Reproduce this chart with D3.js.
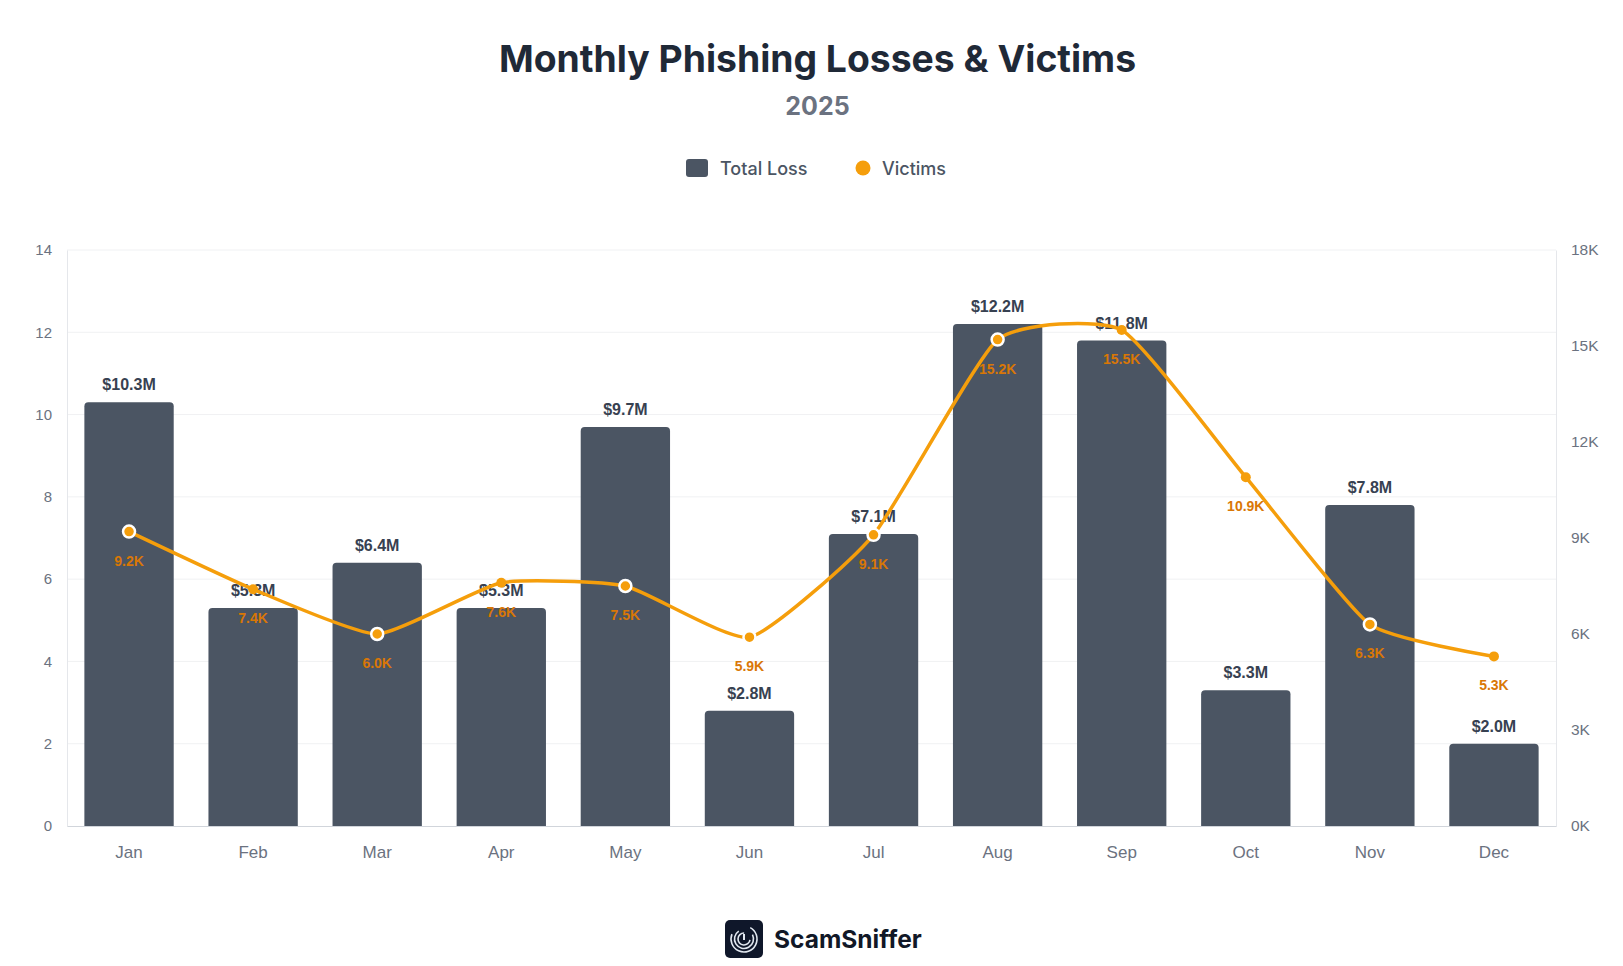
<!DOCTYPE html>
<html>
<head>
<meta charset="utf-8">
<script src="https://cdn.jsdelivr.net/npm/d3@7"></script>
<style>
  body { margin: 0; background: #fff; font-family: Inter, "Noto Sans", sans-serif; }
</style>
</head>
<body>
<div id="chart"></div>
<script>
// data
const months = ["Jan", "Feb", "Mar", "Apr", "May", "Jun", "Jul", "Aug", "Sep", "Oct", "Nov", "Dec"];
const totalLoss = [10.3, 5.3, 6.4, 5.3, 9.7, 2.8, 7.1, 12.2, 11.8, 3.3, 7.8, 2.0];   // $M
const victims = [9.2, 7.4, 6.0, 7.6, 7.5, 5.9, 9.1, 15.2, 15.5, 10.9, 6.3, 5.3];     // K
const ringed = [true, false, true, false, true, true, true, true, false, false, true, false];
const lossTicks = [0, 2, 4, 6, 8, 10, 12, 14];
const victimTicks = [0, 3, 6, 9, 12, 15, 18];

(function () {
    const W = 1623, H = 966;
    const margin = { top: 250, right: 67, bottom: 140, left: 67 },
        width = W - margin.left - margin.right,
        height = H - margin.top - margin.bottom;

    const barColor = "#4b5563", lineColor = "#f59e0b", labelOrange = "#d97706";
    const chartFont = "'Liberation Sans', Arial, Helvetica, sans-serif";

    const root = d3.select("#chart").append("svg")
        .attr("width", W)
        .attr("height", H);

    // title
    root.append("text")
        .attr("x", W / 2 + 6).attr("y", 72)
        .attr("text-anchor", "middle")
        .attr("font-size", 37.3).attr("font-weight", 700)
        .attr("fill", "#1f2937")
        .text("Monthly Phishing Losses & Victims");
    root.append("text")
        .attr("x", W / 2 + 6).attr("y", 115)
        .attr("text-anchor", "middle")
        .attr("font-size", 25).attr("font-weight", 700)
        .attr("fill", "#6b7280")
        .text("2025");

    // legend
    const lg = root.append("g").attr("transform", "translate(686,168)");
    lg.append("rect").attr("x", 0).attr("y", -9).attr("width", 22).attr("height", 18)
        .attr("rx", 3).attr("fill", barColor);
    lg.append("text").attr("x", 34).attr("y", 6.5).attr("font-size", 18).attr("font-weight", 500)
        .attr("fill", "#4b5563").text("Total Loss");
    lg.append("circle").attr("cx", 177).attr("cy", 0).attr("r", 7.5).attr("fill", lineColor);
    lg.append("text").attr("x", 196).attr("y", 6.5).attr("font-size", 18).attr("font-weight", 500)
        .attr("fill", "#4b5563").text("Victims");

    const svg = root.append("g")
        .attr("transform", `translate(${margin.left},${margin.top})`);

    const x = d3.scaleBand().domain(months).range([0, width]).paddingInner(0.28).paddingOuter(0.14);
    const xc = d => x(d) + x.bandwidth() / 2;
    const y = d3.scaleLinear().domain([0, 14]).range([height, 0]);
    const y2 = d3.scaleLinear().domain([0, 18]).range([height, 0]);

    // gridlines
    svg.append("g").selectAll("line")
        .data(lossTicks.slice(1))
        .join("line")
        .attr("x1", 0).attr("x2", width)
        .attr("y1", d => y(d)).attr("y2", d => y(d))
        .attr("stroke", "#f0f1f3").attr("stroke-width", 1);

    // left axis
    const yAxis = svg.append("g").call(d3.axisLeft(y).tickValues(lossTicks).tickSize(0).tickPadding(15));
    yAxis.select(".domain").attr("stroke", "#e5e7eb");
    yAxis.selectAll("text").attr("font-size", 15).attr("fill", "#6b7280").attr("font-family", chartFont);

    // right axis
    const y2Axis = svg.append("g").attr("transform", `translate(${width},0)`)
        .call(d3.axisRight(y2).tickValues(victimTicks).tickFormat(d => d + "K").tickSize(0).tickPadding(15));
    y2Axis.select(".domain").attr("stroke", "#e5e7eb");
    y2Axis.selectAll("text").attr("font-size", 15.5).attr("fill", "#6b7280").attr("font-family", chartFont);

    // x axis
    const xAxis = svg.append("g").attr("transform", `translate(0,${height})`)
        .call(d3.axisBottom(x).tickSize(0).tickPadding(20));
    xAxis.select(".domain").attr("stroke", "#d1d5db");
    xAxis.selectAll("text").attr("font-size", 17).attr("fill", "#6b7280").attr("font-family", chartFont);

    // bars with rounded top
    const r = 4;
    function barPath(d, i) {
        const x0 = x(months[i]), w = x.bandwidth(), y0 = y(d), yb = y(0);
        return `M${x0},${yb}V${y0 + r}Q${x0},${y0} ${x0 + r},${y0}H${x0 + w - r}Q${x0 + w},${y0} ${x0 + w},${y0 + r}V${yb}Z`;
    }
    svg.append("g").selectAll("path")
        .data(totalLoss)
        .join("path")
        .attr("d", barPath)
        .attr("fill", barColor);

    // bar labels
    svg.append("g").selectAll("text")
        .data(totalLoss)
        .join("text")
        .attr("x", (d, i) => xc(months[i]))
        .attr("y", d => y(d) - 12)
        .attr("text-anchor", "middle")
        .attr("font-family", chartFont)
        .attr("font-size", 16).attr("font-weight", 700)
        .attr("fill", "#374151")
        .text(d => "$" + d.toFixed(1) + "M");

    // victims line
    const line = d3.line()
        .x((d, i) => xc(months[i]))
        .y(d => y2(d))
        .curve(d3.curveCardinal.tension(0.5));
    svg.append("path")
        .datum(victims)
        .attr("fill", "none")
        .attr("stroke", lineColor)
        .attr("stroke-width", 3.5)
        .attr("d", line);

    // points
    svg.append("g").selectAll("circle")
        .data(victims)
        .join("circle")
        .attr("cx", (d, i) => xc(months[i]))
        .attr("cy", d => y2(d))
        .attr("r", (d, i) => ringed[i] ? 6 : 5)
        .attr("fill", lineColor)
        .attr("stroke", (d, i) => ringed[i] ? "#fff" : "none")
        .attr("stroke-width", 2.5);

    // victim labels
    svg.append("g").selectAll("text")
        .data(victims)
        .join("text")
        .attr("x", (d, i) => xc(months[i]))
        .attr("y", d => y2(d) + 34)
        .attr("text-anchor", "middle")
        .attr("font-family", chartFont)
        .attr("font-size", 14).attr("font-weight", 700)
        .attr("fill", labelOrange)
        .text(d => d.toFixed(1) + "K");

    // ScamSniffer logo
    const logo = root.append("g").attr("transform", "translate(725,920)");
    logo.append("rect").attr("width", 38).attr("height", 38).attr("rx", 5).attr("fill", "#0f172a");
    [13, 9.5, 6].forEach((rr, i) => {
        logo.append("path")
            .attr("transform", "translate(19,19)")
            .attr("d", d3.arc().innerRadius(rr - 0.8).outerRadius(rr + 0.8)
                .startAngle(0.5 + i * 0.6).endAngle(0.5 + i * 0.6 + 4.6)())
            .attr("fill", "#e2e8f0");
    });
    logo.append("rect").attr("x", 18).attr("y", 14).attr("width", 2).attr("height", 6).attr("fill", "#e2e8f0");
    logo.append("text").attr("x", 49).attr("y", 28).attr("font-size", 24.5).attr("font-weight", 700)
        .attr("fill", "#111827").text("ScamSniffer");
})();
</script>
</body>
</html>
